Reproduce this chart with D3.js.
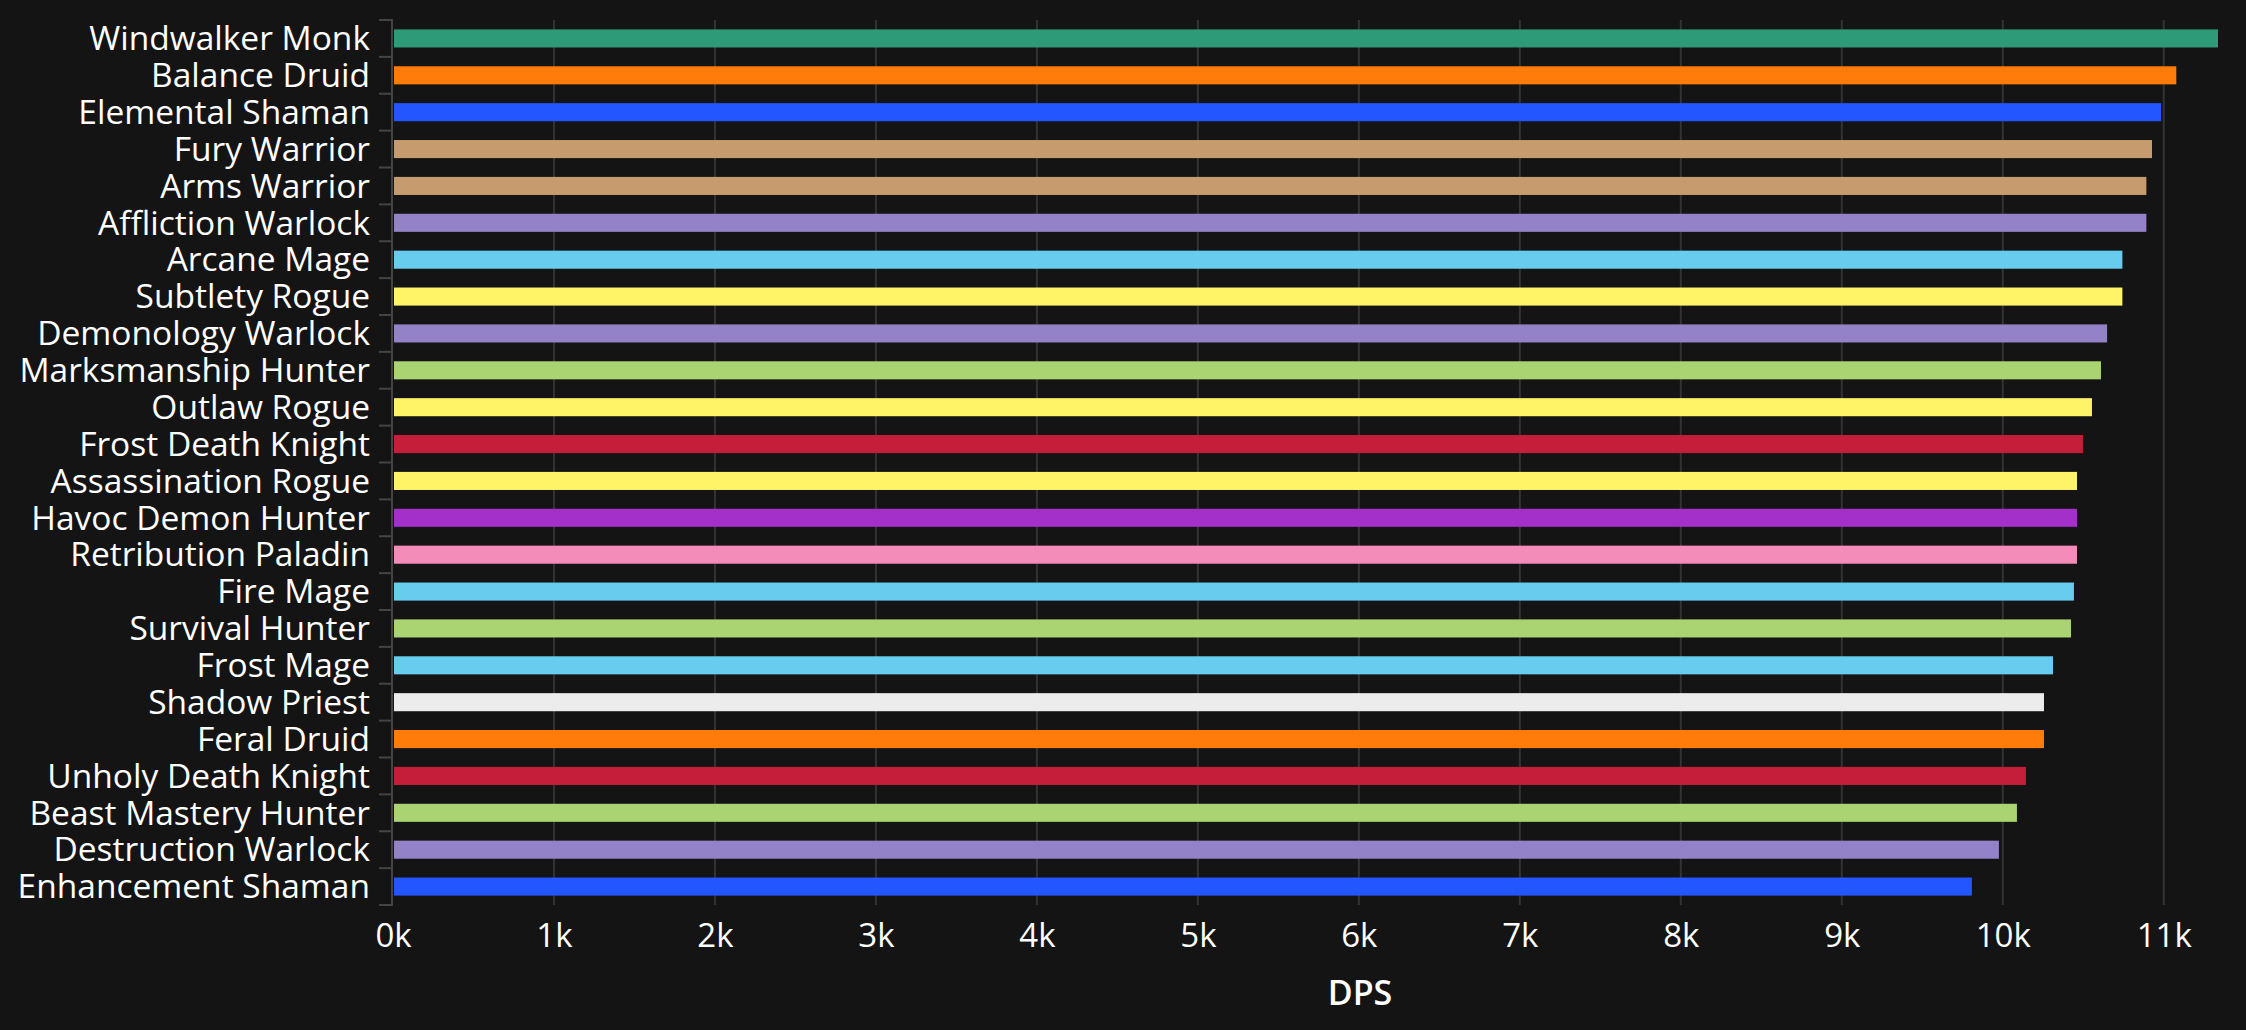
<!DOCTYPE html>
<html>
<head>
<meta charset="utf-8">
<script src="https://cdn.jsdelivr.net/npm/d3@7"></script>
<style>
  html, body { margin: 0; padding: 0; background: #141414; }
  svg { display: block; }
  .tick text { fill: #ffffff; }
</style>
</head>
<body>
<div id="chart"></div>
<script>
// specs top to bottom
var specs = [
    "Windwalker Monk", "Balance Druid", "Elemental Shaman", "Fury Warrior",
    "Arms Warrior", "Affliction Warlock", "Arcane Mage", "Subtlety Rogue",
    "Demonology Warlock", "Marksmanship Hunter", "Outlaw Rogue", "Frost Death Knight",
    "Assassination Rogue", "Havoc Demon Hunter", "Retribution Paladin", "Fire Mage",
    "Survival Hunter", "Frost Mage", "Shadow Priest", "Feral Druid",
    "Unholy Death Knight", "Beast Mastery Hunter", "Destruction Warlock", "Enhancement Shaman"
];

var dps = [
    11337, 11078, 10983, 10927,
    10892, 10892, 10743, 10743,
    10648, 10610, 10554, 10498,
    10461, 10461, 10461, 10442,
    10424, 10312, 10256, 10256,
    10144, 10088, 9976, 9808
];

var classColors = [
    "#2e9a77", "#ff7c0a", "#2456ff", "#c69b6d",
    "#c69b6d", "#9482c9", "#68ccef", "#fff468",
    "#9482c9", "#aad372", "#fff468", "#c41e3a",
    "#fff468", "#a330c9", "#f48cba", "#68ccef",
    "#aad372", "#68ccef", "#ececec", "#ff7c0a",
    "#c41e3a", "#aad372", "#9482c9", "#2456ff"
];

var xTicks = [0, 1000, 2000, 3000, 4000, 5000, 6000, 7000, 8000, 9000, 10000, 11000];

var chartW = 2246, chartH = 1030;
var plot = { left: 393, right: 2218, top: 20, bottom: 905 };
var font = "'Open Sans', sans-serif";

var svg = d3.select("#chart").append("svg")
    .attr("width", chartW)
    .attr("height", chartH);

var xScale = d3.scaleLinear()
    .domain([0, d3.max(dps)])
    .range([plot.left, plot.right]);

var yScale = d3.scaleBand()
    .domain(specs)
    .range([plot.top, plot.bottom]);

// vertical grid lines
svg.append("g")
    .selectAll("line")
    .data(xTicks.slice(1))
    .enter().append("line")
    .attr("x1", function (d) { return xScale(d); })
    .attr("x2", function (d) { return xScale(d); })
    .attr("y1", plot.top)
    .attr("y2", plot.bottom)
    .attr("stroke", "#333333")
    .attr("stroke-width", 2);

// bars
var barH = yScale.bandwidth() * 0.49;
svg.append("g")
    .selectAll("rect")
    .data(specs)
    .enter().append("rect")
    .attr("x", xScale(0) + 1)
    .attr("y", function (d) { return yScale(d) + (yScale.bandwidth() - barH) / 2; })
    .attr("width", function (d, i) { return xScale(dps[i]) - xScale(0) - 1; })
    .attr("height", barH)
    .attr("fill", function (d, i) { return classColors[i]; });

// y axis: ticks sit on band edges, labels centred in bands
var yAxis = svg.append("g").attr("class", "y axis");
yAxis.append("line")
    .attr("x1", plot.left - 1).attr("x2", plot.left - 1)
    .attr("y1", plot.top).attr("y2", plot.bottom)
    .attr("stroke", "#444444")
    .attr("stroke-width", 2);

var edges = specs.map(function (d) { return yScale(d); }).concat([plot.bottom]);
yAxis.selectAll(".edge")
    .data(edges)
    .enter().append("line")
    .attr("class", "edge")
    .attr("x1", plot.left - 14).attr("x2", plot.left)
    .attr("y1", function (d) { return d; })
    .attr("y2", function (d) { return d; })
    .attr("stroke", "#444444")
    .attr("stroke-width", 2);

yAxis.selectAll("text")
    .data(specs)
    .enter().append("text")
    .attr("x", plot.left - 23)
    .attr("y", function (d) { return yScale(d) + yScale.bandwidth() / 2; })
    .attr("dy", "0.35em")
    .attr("text-anchor", "end")
    .attr("fill", "#ffffff")
    .style("font-family", font)
    .style("font-size", "33.5px")
    .text(function (d) { return d; });

// x axis (labels only, no domain line)
var xAxis = svg.append("g")
    .attr("class", "x axis")
    .attr("transform", "translate(0," + plot.bottom + ")")
    .call(d3.axisBottom(xScale)
        .tickValues(xTicks)
        .tickSize(0)
        .tickPadding(19)
        .tickFormat(function (d) { return (d / 1000) + "k"; }));
xAxis.select(".domain").remove();
xAxis.selectAll("text")
    .style("font-family", font)
    .style("font-size", "33px");

svg.append("text")
    .attr("x", 1360)
    .attr("y", 1005)
    .attr("text-anchor", "middle")
    .attr("fill", "#ffffff")
    .style("font-family", font)
    .style("font-size", "34px")
    .style("font-weight", "600")
    .text("DPS");
</script>
</body>
</html>
